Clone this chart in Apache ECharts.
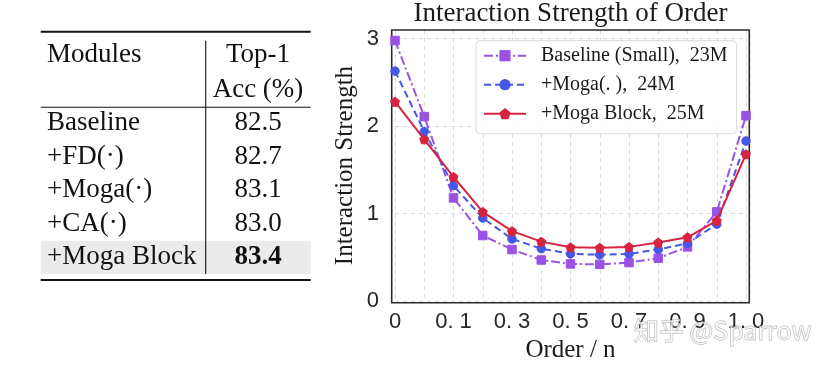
<!DOCTYPE html>
<html>
<head>
<meta charset="utf-8">
<script src="https://cdn.jsdelivr.net/npm/echarts@6/dist/echarts.min.js"></script>
<style>
  html, body { margin: 0; padding: 0; background: #fff; }
  #chart { width: 832px; height: 368px; }
</style>
</head>
<body>
<div id="chart"></div>
<script>
// ---- data ----
const orderLabels = ['0', '', '0. 1', '', '0. 3', '', '0. 5', '', '0. 7', '', '0. 9', '', '1. 0'];
const seriesNames = ['Baseline (Small),  23M', '+Moga(. ),  24M', '+Moga Block,  25M'];
const baselineSmall = [2.98, 2.11, 1.18, 0.75, 0.59, 0.47, 0.425, 0.42, 0.44, 0.49, 0.62, 1.02, 2.12];
const mogaOp = [2.63, 1.94, 1.32, 0.95, 0.71, 0.60, 0.54, 0.53, 0.54, 0.59, 0.66, 0.88, 1.83];
const mogaBlock = [2.28, 1.85, 1.42, 1.02, 0.80, 0.68, 0.615, 0.61, 0.62, 0.67, 0.73, 0.92, 1.68];
const yTicks = [0, 1, 2, 3];

const tableHeader = ['Modules', 'Top-1', 'Acc (%)'];
const tableModules = ['Baseline', '+FD(·)', '+Moga(·)', '+CA(·)', '+Moga Block'];
const tableAcc = ['82.5', '82.7', '83.1', '83.0', '83.4'];

// ---- styles ----
const SERIF = '"Liberation Serif", "Times New Roman", serif';
const SANS = '"Liberation Sans", Arial, sans-serif';
const purple = '#9a52e4';
const blue = '#4457e6';
const red = '#d6233f';
const pentagon = 'path://M0,-10 L9.51,-3.09 L5.88,8.09 L-5.88,8.09 L-9.51,-3.09 Z';

const chart = echarts.init(document.getElementById('chart'), null, { renderer: 'canvas' });

// table graphics
const tableEls = [];
const tL = 40.7, tR = 310.7, colX = 205.7, textL = 47, valX = 258;
tableEls.push({ type: 'rect', shape: { x: tL, y: 240.7, width: tR - tL, height: 33.5 }, style: { fill: '#ebebeb' } });
tableEls.push({ type: 'line', shape: { x1: tL, y1: 31.7, x2: tR, y2: 31.7 }, style: { stroke: '#111', lineWidth: 2 } });
tableEls.push({ type: 'line', shape: { x1: tL, y1: 107.3, x2: tR, y2: 107.3 }, style: { stroke: '#111', lineWidth: 1.1 } });
tableEls.push({ type: 'line', shape: { x1: tL, y1: 280, x2: tR, y2: 280 }, style: { stroke: '#111', lineWidth: 2 } });
tableEls.push({ type: 'line', shape: { x1: colX, y1: 40.7, x2: colX, y2: 274 }, style: { stroke: '#111', lineWidth: 1.1 } });
const tFont = { fontFamily: SERIF, fontSize: 27, fill: '#111' };
tableEls.push({ type: 'text', x: textL, y: 55, style: Object.assign({ text: tableHeader[0], align: 'left', verticalAlign: 'middle' }, tFont) });
tableEls.push({ type: 'text', x: valX, y: 55, style: Object.assign({ text: tableHeader[1], align: 'center', verticalAlign: 'middle' }, tFont) });
tableEls.push({ type: 'text', x: valX, y: 90, style: Object.assign({ text: tableHeader[2], align: 'center', verticalAlign: 'middle' }, tFont) });
tableModules.forEach((m, i) => {
  const y = 123 + i * 33.5;
  const last = i === tableModules.length - 1;
  tableEls.push({ type: 'text', x: textL, y: y, style: Object.assign({ text: m, align: 'left', verticalAlign: 'middle' }, tFont) });
  tableEls.push({ type: 'text', x: valX, y: y, style: Object.assign({ text: tableAcc[i], align: 'center', verticalAlign: 'middle', fontWeight: last ? 'bold' : 'normal' }, tFont) });
});

const frameEl = { type: 'rect', z: 1, shape: { x: 391.7, y: 30, width: 357.6, height: 272.7 }, style: { fill: 'none', stroke: '#2b2b2b', lineWidth: 1.6 } };
const watermark = { type: 'text', z: 100, x: 634, y: 330, style: { text: '知乎 @Sparrow', fontFamily: '"Noto Sans CJK SC", ' + SANS, fontSize: 25, fill: 'rgba(255,255,255,0.75)', stroke: 'rgba(110,110,110,0.55)', lineWidth: 1, align: 'left', verticalAlign: 'middle' } };

const option = {
  animation: false,
  backgroundColor: '#fff',
  title: {
    text: 'Interaction Strength of Order',
    left: 570.5,
    top: 0,
    padding: 0,
    textAlign: 'center',
    textStyle: { fontFamily: SERIF, fontSize: 27, fontWeight: 'normal', color: '#1a1a1a' }
  },
  legend: {
    orient: 'vertical',
    left: 476,
    top: 40.7,
    padding: [5, 9, 10, 7],
    itemWidth: 42,
    itemHeight: 14,
    itemGap: 9,
    backgroundColor: 'rgba(255,255,255,0.85)',
    borderColor: '#d9d9d9',
    borderWidth: 1,
    borderRadius: 4,
    textStyle: { fontFamily: SERIF, fontSize: 20, color: '#1a1a1a', padding: [0, 0, 0, 10] },
    data: seriesNames
  },
  grid: { left: 395, right: 86, top: 30, bottom: 65.3, containLabel: false },
  xAxis: {
    type: 'category',
    boundaryGap: false,
    data: orderLabels.map((l, i) => String(i)),
    name: 'Order / n',
    nameLocation: 'middle',
    nameGap: 36,
    nameTextStyle: { fontFamily: SERIF, fontSize: 25, color: '#1a1a1a' },
    axisLine: { show: false },
    axisTick: { show: false },
    axisLabel: {
      interval: 0,
      margin: 10,
      fontFamily: SANS,
      fontSize: 22,
      color: '#262626',
      formatter: (v, i) => orderLabels[i]
    },
    splitLine: { show: true, interval: 0, lineStyle: { color: '#dadada', type: [4, 4], width: 1 } }
  },
  yAxis: {
    type: 'value',
    min: 0,
    max: 3.1,
    interval: 1,
    name: 'Interaction Strength',
    nameLocation: 'middle',
    nameGap: 37,
    nameTextStyle: { fontFamily: SERIF, fontSize: 25, color: '#1a1a1a' },
    axisLine: { show: false },
    axisTick: { show: false },
    axisLabel: {
      showMaxLabel: false,
      margin: 16,
      fontFamily: SANS,
      fontSize: 22,
      color: '#262626',
      formatter: (v) => (yTicks.indexOf(v) >= 0 ? String(v) : '')
    },
    splitLine: { show: true, lineStyle: { color: '#dadada', type: [4, 4], width: 1 } }
  },
  series: [
    {
      name: seriesNames[0], type: 'line', data: baselineSmall, z: 3,
      symbol: 'rect', symbolSize: 8.5,
      lineStyle: { color: purple, width: 2, type: [9, 3, 2, 3] },
      itemStyle: { color: purple, borderColor: purple }
    },
    {
      name: seriesNames[1], type: 'line', data: mogaOp, z: 4,
      symbol: 'circle', symbolSize: 8.5,
      lineStyle: { color: blue, width: 2, type: [7, 4] },
      itemStyle: { color: blue, borderColor: blue }
    },
    {
      name: seriesNames[2], type: 'line', data: mogaBlock, z: 5,
      symbol: pentagon, symbolSize: 9,
      lineStyle: { color: red, width: 2, type: 'solid' },
      itemStyle: { color: red, borderColor: red }
    }
  ],
  graphic: { elements: tableEls.concat([frameEl, watermark]) }
};
chart.setOption(option);
</script>
</body>
</html>
